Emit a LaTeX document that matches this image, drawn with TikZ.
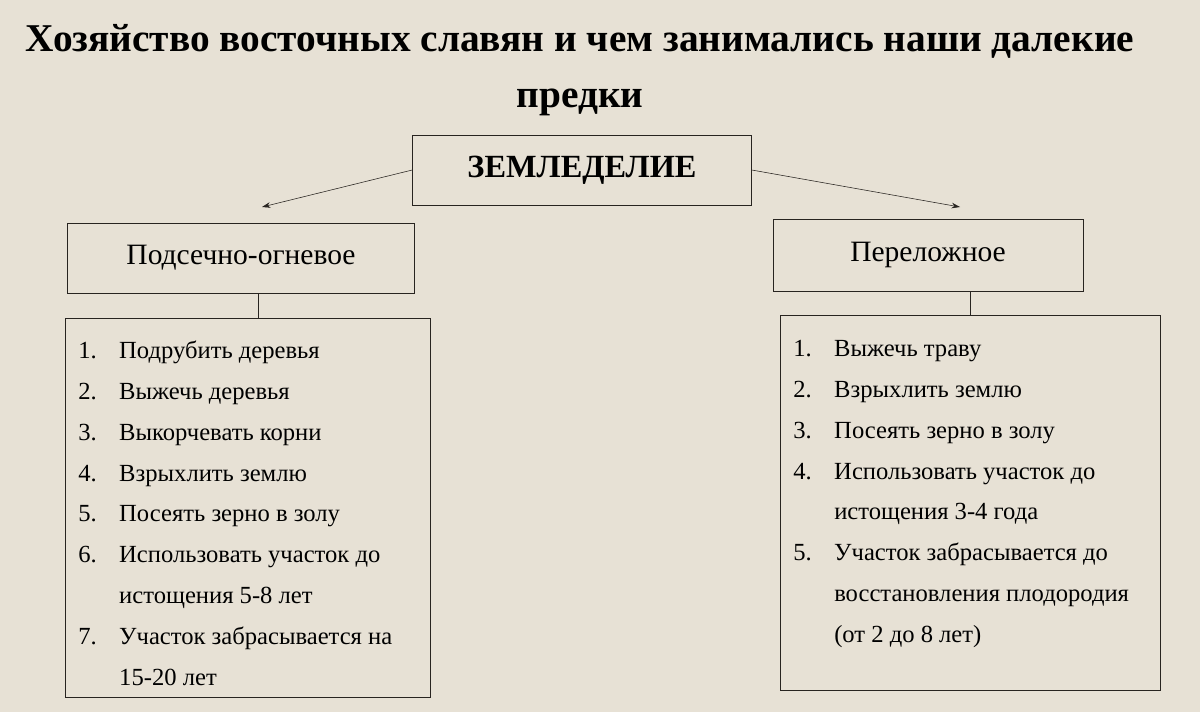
\documentclass[tikz,border=0pt]{standalone}
\usepackage{fontspec}
\setmainfont{Liberation Serif}
\usetikzlibrary{positioning,arrows.meta}
\definecolor{paper}{RGB}{231,225,213}
\definecolor{ink}{RGB}{40,36,32}

\begin{document}
\begin{tikzpicture}[x=0.025cm,y=-0.025cm,
    box/.style={draw=ink, thin, inner sep=0pt},
    listtext/.style={anchor=north west, align=left, inner sep=0pt, font=\fontsize{17.5}{29}\selectfont},
    arrow/.style={-{Stealth[length=6pt,width=4pt]}, ink, thin}
]
    \fill[paper] (0,0) rectangle (1200,712);
    % Title
    \node[font=\fontsize{28}{40}\selectfont\bfseries, align=center] (title) at (580,70)
        {Хозяйство восточных славян и чем занимались наши далекие\\предки};
    % Boxes
    \node[box, minimum width=339*0.025cm, minimum height=70*0.025cm, font=\fontsize{23}{26}\selectfont\bfseries] (zem) at (582,170) {ЗЕМЛЕДЕЛИЕ};
    \node[box, minimum width=347*0.025cm, minimum height=70*0.025cm, font=\fontsize{21}{24}\selectfont] (podseka) at (241,258) {Подсечно-огневое};
    \node[box, minimum width=310*0.025cm, minimum height=72*0.025cm, font=\fontsize{21}{24}\selectfont] (perelog) at (928,255) {Переложное};
    % Lists
    \node[box, anchor=north west, minimum width=365*0.025cm, minimum height=379*0.025cm] (list1) at (65,318) {};
    \node[box, anchor=north west, minimum width=380*0.025cm, minimum height=375*0.025cm] (list2) at (780,315) {};
    \node[listtext] (items1) at (78,330) {%
      \begin{tabular}{@{}l@{\hspace{16pt}}l@{}}
      1. & Подрубить деревья\\
      2. & Выжечь деревья\\
      3. & Выкорчевать корни\\
      4. & Взрыхлить землю\\
      5. & Посеять зерно в золу\\
      6. & Использовать участок до\\
         & истощения 5-8 лет\\
      7. & Участок забрасывается на\\
         & 15-20 лет
      \end{tabular}};
    \node[listtext] (items2) at (793,328) {%
      \begin{tabular}{@{}l@{\hspace{16pt}}l@{}}
      1. & Выжечь траву\\
      2. & Взрыхлить землю\\
      3. & Посеять зерно в золу\\
      4. & Использовать участок до\\
         & истощения 3-4 года\\
      5. & Участок забрасывается до\\
         & восстановления плодородия\\
         & (от 2 до 8 лет)
      \end{tabular}};
    % Connectors
    \coordinate (aL) at (262,207);
    \coordinate (aR) at (960,207);
    \draw[arrow] (zem.west) -- (aL);
    \draw[arrow] (zem.east) -- (aR);
    \draw[ink, thin] (podseka.south -| 258,0) -- (list1.north -| 258,0);
    \draw[ink, thin] (perelog.south -| 970,0) -- (list2.north -| 970,0);
\end{tikzpicture}
\end{document}
